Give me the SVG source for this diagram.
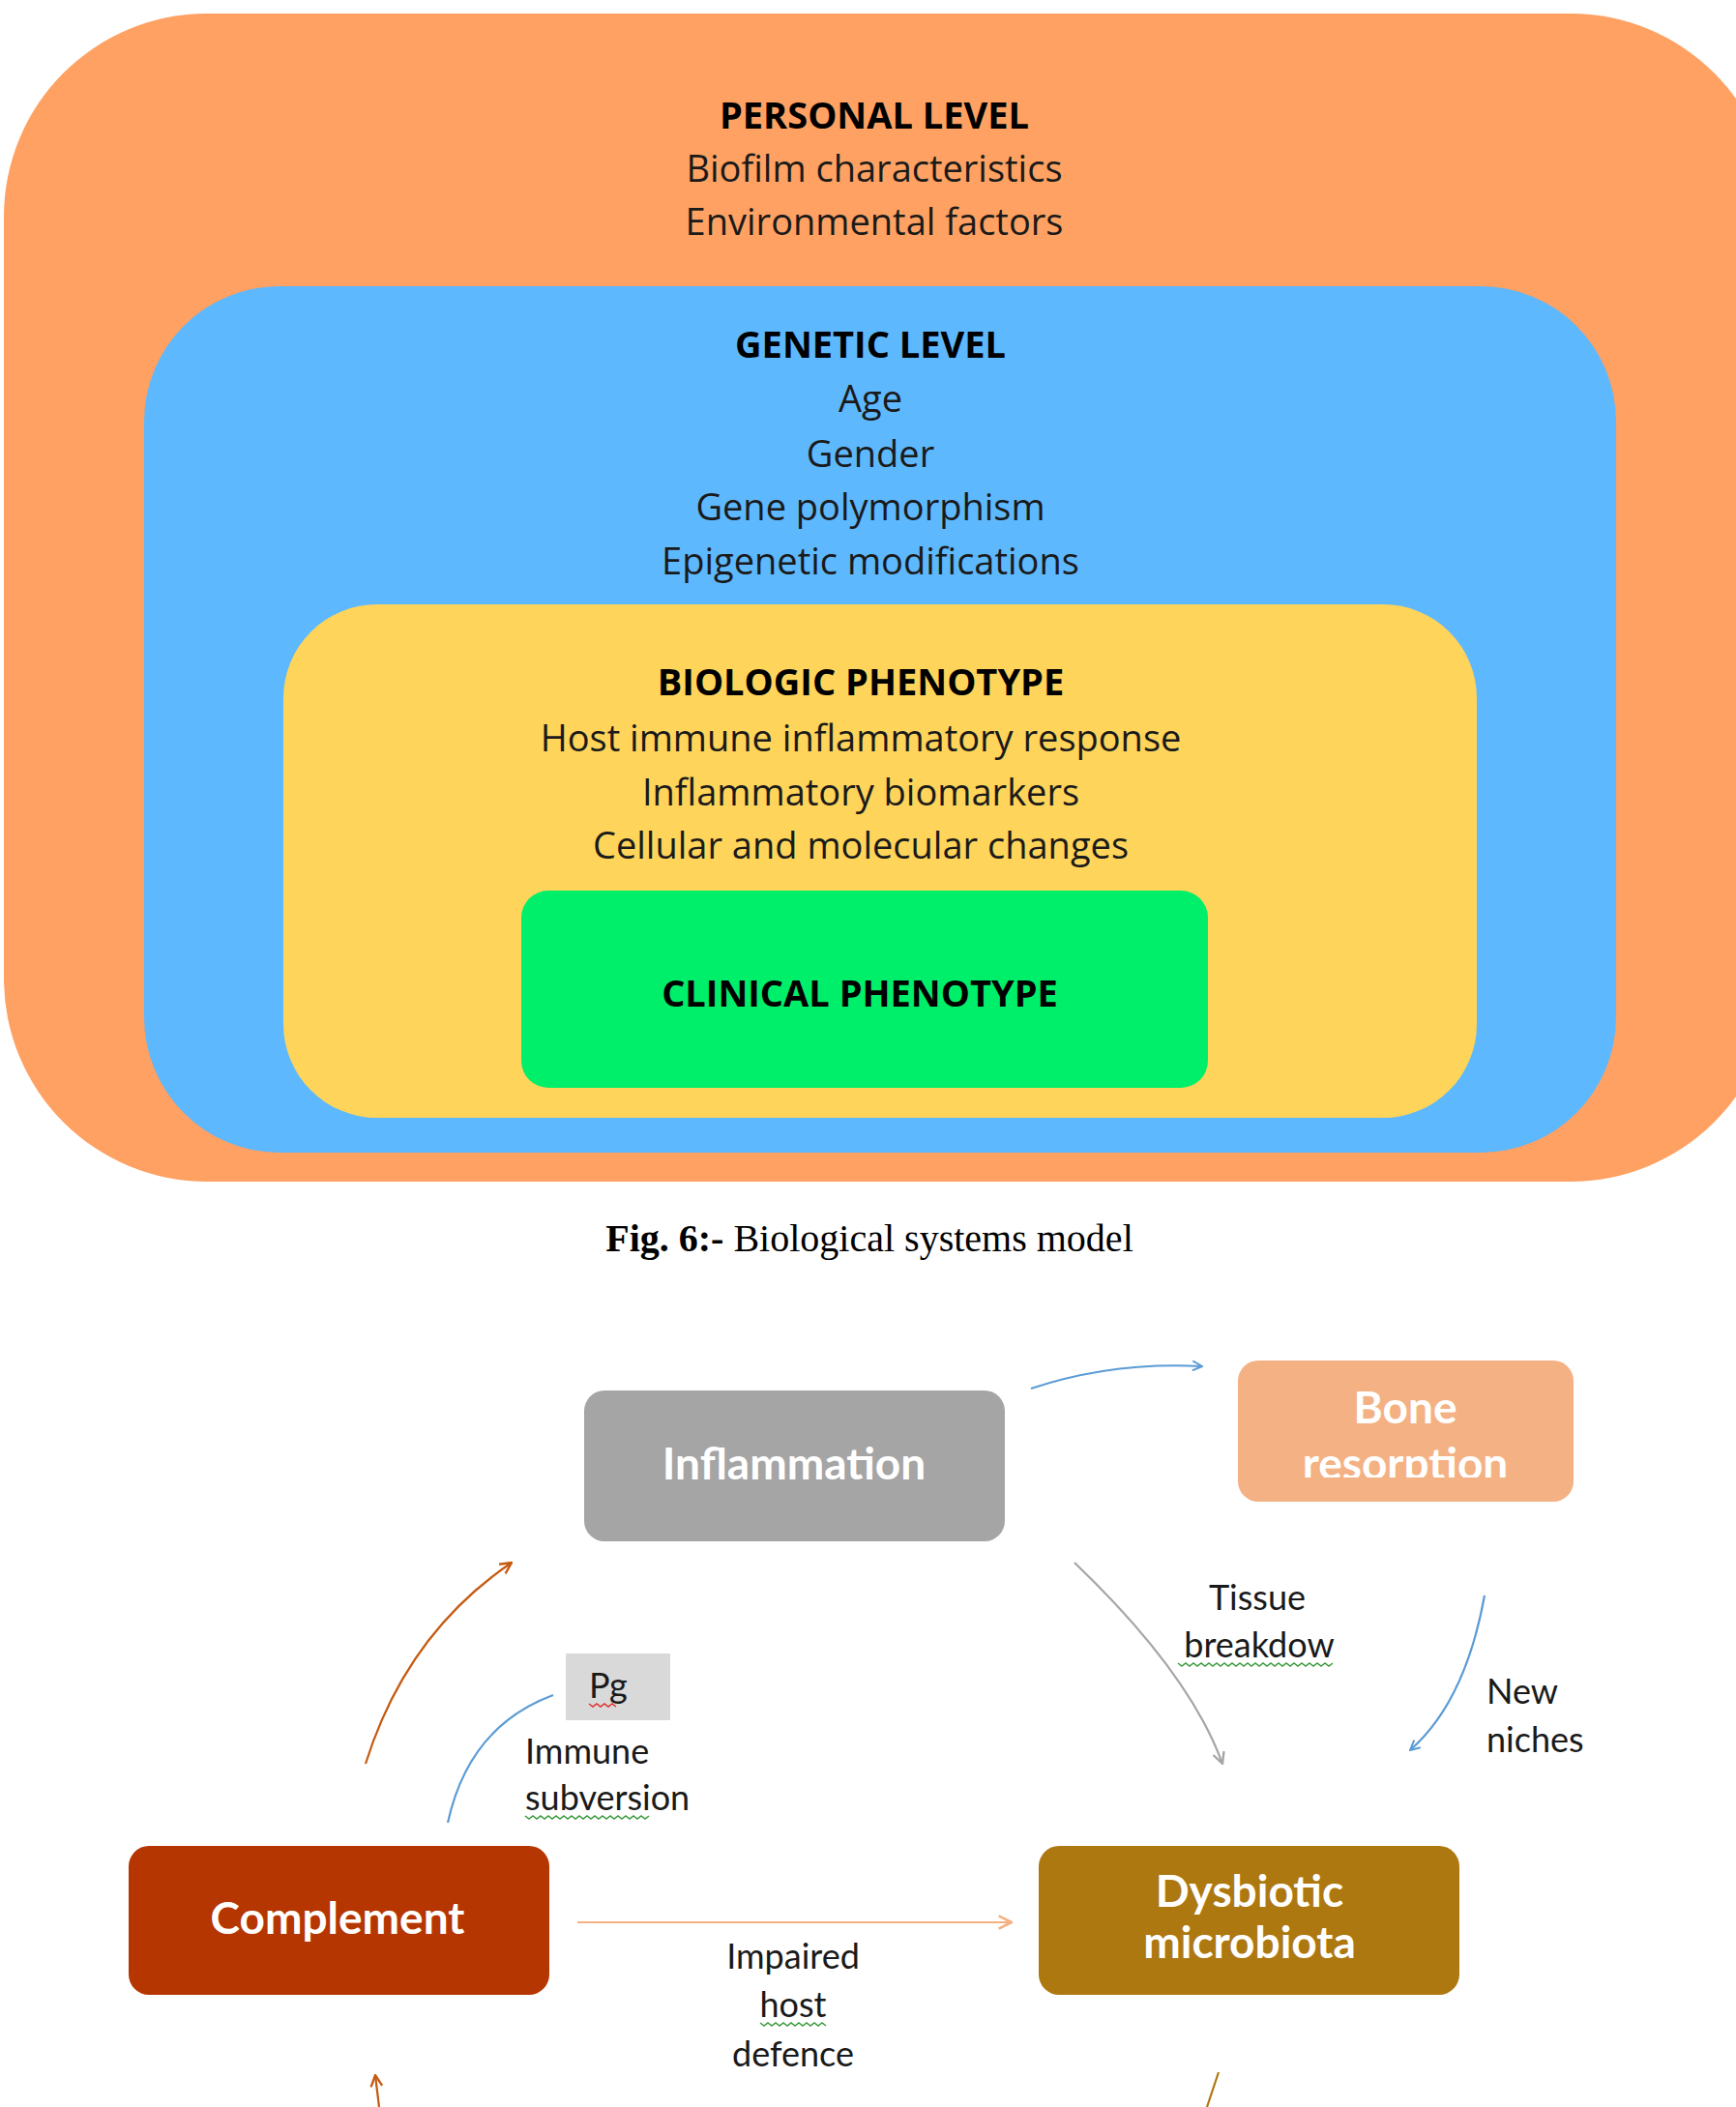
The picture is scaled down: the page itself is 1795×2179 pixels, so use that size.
<svg xmlns="http://www.w3.org/2000/svg" width="1795" height="2179" viewBox="0 0 1795 2179">
<style>
.h{font-family:"Open Sans","Liberation Sans",sans-serif;font-weight:bold;font-size:38px;fill:#000;text-anchor:middle}
.t{font-family:"Open Sans","Liberation Sans",sans-serif;font-size:38px;fill:#1a1a1a;text-anchor:middle}
.w{font-family:"Lato","Liberation Sans",sans-serif;font-weight:bold;font-size:46px;fill:#fff;text-anchor:middle}
.l{font-family:"Lato","Liberation Sans",sans-serif;font-size:36px;fill:#1a1a1a}
.c{fill:none;stroke-width:2.2}
</style>
<defs>
<marker id="ab" viewBox="0 0 12 12" refX="11" refY="6" markerWidth="12" markerHeight="12" markerUnits="userSpaceOnUse" orient="auto"><path d="M1,1 L11,6 L1,11" fill="none" stroke="#5b9bd5" stroke-width="2"/></marker>
<marker id="ag" viewBox="0 0 12 12" refX="11" refY="6" markerWidth="14" markerHeight="14" markerUnits="userSpaceOnUse" orient="auto"><path d="M1,1 L11,6 L1,11" fill="none" stroke="#a5a5a5" stroke-width="2"/></marker>
<marker id="ao" viewBox="0 0 12 12" refX="11" refY="6" markerWidth="14" markerHeight="14" markerUnits="userSpaceOnUse" orient="auto"><path d="M1,1 L11,6 L1,11" fill="none" stroke="#c55a11" stroke-width="2"/></marker>
<marker id="al" viewBox="0 0 12 12" refX="11" refY="6" markerWidth="16" markerHeight="16" markerUnits="userSpaceOnUse" orient="auto"><path d="M1,1 L11,6 L1,11" fill="none" stroke="#f4b183" stroke-width="2"/></marker>
<clipPath id="bc"><rect x="1280" y="1407" width="347" height="121"/></clipPath>
</defs>
<rect width="1795" height="2179" fill="#fff"/>
<g id="personal"><rect x="4" y="14" width="1830" height="1208" rx="210" fill="#fea162"/>
<text class="h" x="904" y="133">PERSONAL LEVEL</text>
<text class="t" x="904" y="188">Biofilm characteristics</text>
<text class="t" x="904" y="243">Environmental factors</text></g>
<g id="genetic"><rect x="149" y="296" width="1522" height="896" rx="140" fill="#5eb8fd"/>
<text class="h" x="900" y="370">GENETIC LEVEL</text>
<text class="t" x="900" y="426">Age</text>
<text class="t" x="900" y="483">Gender</text>
<text class="t" x="900" y="538">Gene polymorphism</text>
<text class="t" x="900" y="594">Epigenetic modifications</text></g>
<g id="biologic"><rect x="293" y="625" width="1234" height="531" rx="97" fill="#fed45a"/>
<text class="h" x="890" y="719">BIOLOGIC PHENOTYPE</text>
<text class="t" x="890" y="777">Host immune inflammatory response</text>
<text class="t" x="890" y="833">Inflammatory biomarkers</text>
<text class="t" x="890" y="888">Cellular and molecular changes</text></g>
<g id="clinical"><rect x="539" y="921" width="710" height="204" rx="28" fill="#00ef6a"/>
<text class="h" x="889" y="1041">CLINICAL PHENOTYPE</text></g>
<text x="899" y="1294" text-anchor="middle" font-family="Liberation Serif,serif" font-size="40" fill="#000"><tspan font-weight="bold">Fig. 6:-</tspan> Biological systems model</text>
<g id="connectors">
<path class="c" d="M1066,1436 Q1150,1408 1243,1413" stroke="#5b9bd5" marker-end="url(#ab)"/>
<path class="c" d="M1111,1616 Q1230,1730 1264,1824" stroke="#a5a5a5" marker-end="url(#ag)"/>
<path class="c" d="M1535,1650 Q1515,1760 1458,1810" stroke="#5b9bd5" marker-end="url(#ab)"/>
<path class="c" d="M378,1824 Q420,1690 529,1616" stroke="#c55a11" marker-end="url(#ao)"/>
<path class="c" d="M463,1885 Q485,1785 572,1753" stroke="#5b9bd5"/>
<path class="c" d="M597,1988 L1046,1988" stroke="#f4b183" marker-end="url(#al)"/>
<path class="c" d="M392,2179 L388,2146" stroke="#c55a11" marker-end="url(#ao)"/>
<path class="c" d="M1260,2143 L1248,2179" stroke="#ae7811"/>
</g>
<g id="inflammation"><rect x="604" y="1438" width="435" height="156" rx="21" fill="#a5a5a5"/><text class="w" x="821" y="1530">Inflammation</text></g>
<g id="bone"><rect x="1280" y="1407" width="347" height="146" rx="21" fill="#f4b183"/>
<g clip-path="url(#bc)"><text class="w" x="1453" y="1472">Bone</text><text class="w" x="1453" y="1530">resorption</text></g></g>
<g id="complement"><rect x="133" y="1909" width="435" height="154" rx="21" fill="#b53600"/><text class="w" x="349" y="2000">Complement</text></g>
<g id="dysbiotic"><rect x="1074" y="1909" width="435" height="154" rx="21" fill="#ae7811"/><text class="w" x="1292" y="1972">Dysbiotic</text><text class="w" x="1292" y="2025">microbiota</text></g>
<g id="pg"><rect x="585" y="1710" width="108" height="69" fill="#d9d9d9"/><text class="l" x="609" y="1756">Pg</text>
<path d="M609,1762 l4,3 4,-3 4,3 4,-3 4,3 4,-3 4,3" fill="none" stroke="#e03030" stroke-width="1.5"/></g>
<g id="labels">
<text class="l" x="543" y="1824">Immune</text>
<text class="l" x="543" y="1872">subversion</text>
<path d="M543,1878 l4,3 4,-3 4,3 4,-3 4,3 4,-3 4,3 4,-3 4,3 4,-3 4,3 4,-3 4,3 4,-3 4,3 4,-3 4,3 4,-3 4,3 4,-3 4,3 4,-3 4,3 4,-3 4,3 4,-3 4,3 4,-3 4,3 4,-3 4,3 4,-3" fill="none" stroke="#3c9a3c" stroke-width="1.5"/>
<text class="l" x="1300" y="1665" text-anchor="middle">Tissue</text>
<text class="l" x="1302" y="1714" text-anchor="middle">breakdow</text>
<path d="M1218,1720 l4,3 4,-3 4,3 4,-3 4,3 4,-3 4,3 4,-3 4,3 4,-3 4,3 4,-3 4,3 4,-3 4,3 4,-3 4,3 4,-3 4,3 4,-3 4,3 4,-3 4,3 4,-3 4,3 4,-3 4,3 4,-3 4,3 4,-3 4,3 4,-3 4,3 4,-3 4,3 4,-3 4,3 4,-3 4,3 4,-3" fill="none" stroke="#3c9a3c" stroke-width="1.5"/>
<text class="l" x="1537" y="1762">New</text>
<text class="l" x="1537" y="1812">niches</text>
<text class="l" x="820" y="2036" text-anchor="middle">Impaired</text>
<text class="l" x="820" y="2086" text-anchor="middle">host</text>
<path d="M786,2092 l4,3 4,-3 4,3 4,-3 4,3 4,-3 4,3 4,-3 4,3 4,-3 4,3 4,-3 4,3 4,-3 4,3 4,-3 4,3" fill="none" stroke="#3c9a3c" stroke-width="1.5"/>
<text class="l" x="820" y="2137" text-anchor="middle">defence</text>
</g>
</svg>
